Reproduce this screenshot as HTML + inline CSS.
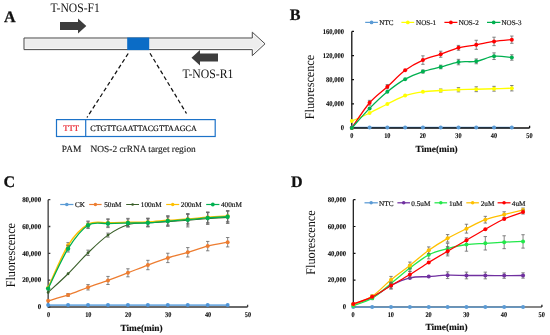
<!DOCTYPE html>
<html lang="en"><head><meta charset="utf-8"><title>Figure</title>
<style>html,body{margin:0;padding:0;background:#fff}body{width:550px;height:335px;overflow:hidden}svg{display:block}</style></head>
<body>
<svg width="550" height="335" viewBox="0 0 550 335" style="text-rendering:geometricPrecision">
<rect width="550" height="335" fill="#fff"/>
<g font-family="'Liberation Serif',serif" font-weight="bold" font-size="16.1" fill="#111" stroke="#111" stroke-width="0.25">
<text x="3.9" y="22">A</text>
<text x="289.8" y="20">B</text>
<text x="3.6" y="187">C</text>
<text x="291" y="187">D</text>
</g>
<g font-family="'Liberation Serif',serif" fill="#111">
<text x="50.5" y="12.4" font-size="13" textLength="49.3" lengthAdjust="spacingAndGlyphs">T-NOS-F1</text>
<text x="182.4" y="77.6" font-size="13" textLength="51" lengthAdjust="spacingAndGlyphs">T-NOS-R1</text>
</g>
<path d="M60 22 H78 V18.5 L86.3 26 L78 33.5 V29.9 H60 Z" fill="#3d3d3d"/>
<path d="M24 38 H252.3 V32.2 L265 43.8 L252.3 55.6 V49.6 H24 Z" fill="#ededed" stroke="#fafafa" stroke-width="2.6" stroke-linejoin="miter"/>
<path d="M24 38 H252.3 V32.2 L265 43.8 L252.3 55.6 V49.6 H24 Z" fill="none" stroke="#4a4a4a" stroke-width="1" stroke-linejoin="miter"/>
<rect x="127.2" y="37.5" width="22" height="12.6" fill="#0b6cc6"/>
<path d="M218 53.5 H200 V50 L191.5 57.7 L200 65.4 V61.6 H218 Z" fill="#3d3d3d"/>
<path d="M128.2 53.5 L87 117.5 M150 53.2 L186.5 113.5" stroke="#111" stroke-width="1.25" stroke-dasharray="4.1 2.7" fill="none"/>
<rect x="56.5" y="119.6" width="158.7" height="16.9" fill="#fff" stroke="#1c72c8" stroke-width="1.2"/>
<path d="M85.7 119.6 V136.5" stroke="#1c72c8" stroke-width="1.2"/>
<text x="71.2" y="131.1" font-family="'Liberation Serif',serif" font-size="8.6" fill="#e8202a" stroke="#e8202a" stroke-width="0.2" text-anchor="middle">TTT</text>
<text x="90.3" y="131.1" font-family="'Liberation Serif',serif" font-size="8.3" fill="#111" stroke="#111" stroke-width="0.18" textLength="106.4" lengthAdjust="spacingAndGlyphs">CTGTTGAATTACGTTAAGCA</text>
<text x="61.8" y="152.4" font-family="'Liberation Serif',serif" font-size="9.4" fill="#222" stroke="#222" stroke-width="0.15">PAM</text>
<text x="90.5" y="152.4" font-family="'Liberation Serif',serif" font-size="9.4" fill="#222" stroke="#222" stroke-width="0.15">NOS-2 crRNA target region</text>
<path d="M351.8 127.4 H511.82" stroke="#5b9bd5" stroke-width="1.5" fill="none"/>
<g stroke="#111" stroke-width="1.3" fill="none">
<path d="M351.8 31.4 V128 H529.6"/>
<path d="M351.8 128 h2.2M351.8 103.85 h2.2M351.8 79.7 h2.2M351.8 55.55 h2.2M351.8 31.4 h2.2M529.6 128 v-2.2"/>
</g>
<g font-family="'Liberation Serif',serif" font-weight="bold" font-size="7.3" fill="#111" stroke="#111" stroke-width="0.12">
<text transform="translate(344.1 130) scale(0.9 1)" text-anchor="end">0</text>
<text transform="translate(344.1 106) scale(0.9 1)" text-anchor="end">40,000</text>
<text transform="translate(344.1 82) scale(0.9 1)" text-anchor="end">80,000</text>
<text transform="translate(344.1 58) scale(0.9 1)" text-anchor="end">120,000</text>
<text transform="translate(344.1 34) scale(0.9 1)" text-anchor="end">160,000</text>
<text transform="translate(351.7 138) scale(0.86 1)" text-anchor="middle">0</text>
<text transform="translate(387.26 138) scale(0.86 1)" text-anchor="middle">10</text>
<text transform="translate(422.82 138) scale(0.86 1)" text-anchor="middle">20</text>
<text transform="translate(458.38 138) scale(0.86 1)" text-anchor="middle">30</text>
<text transform="translate(493.94 138) scale(0.86 1)" text-anchor="middle">40</text>
<text transform="translate(529.5 138) scale(0.86 1)" text-anchor="middle">50</text>
</g>
<text transform="translate(436.6 152) scale(1 1)" text-anchor="middle" font-family="'Liberation Serif',serif" font-weight="bold" font-size="9.3" fill="#111" stroke="#111" stroke-width="0.15">Time(min)</text>
<text transform="translate(314.4 87) rotate(-90) scale(0.925 1)" text-anchor="middle" font-family="'Liberation Serif',serif" font-size="13.2" fill="#111">Fluorescence</text>
<g fill="#5b9bd5"><circle cx="351.8" cy="127.4" r="2.0"/><circle cx="369.58" cy="127.4" r="2.0"/><circle cx="387.36" cy="127.4" r="2.0"/><circle cx="405.14" cy="127.4" r="2.0"/><circle cx="422.92" cy="127.4" r="2.0"/><circle cx="440.7" cy="127.4" r="2.0"/><circle cx="458.48" cy="127.4" r="2.0"/><circle cx="476.26" cy="127.4" r="2.0"/><circle cx="494.04" cy="127.4" r="2.0"/><circle cx="511.82" cy="127.4" r="2.0"/></g>
<path d="M440.7 89 V92.02 M439 89 h3.4 M439 92.02 h3.4M458.48 87.61 V91.84 M456.78 87.61 h3.4 M456.78 91.84 h3.4M476.26 86.82 V91.65 M474.56 86.82 h3.4 M474.56 91.65 h3.4M494.04 86.34 V91.17 M492.34 86.34 h3.4 M492.34 91.17 h3.4M511.82 85.5 V90.93 M510.12 85.5 h3.4 M510.12 90.93 h3.4" stroke="#666" stroke-width="0.8" fill="none"/>
<path d="M351.8 121.12 C354.76 119.76 363.65 115.81 369.58 112.97 C375.51 110.12 381.43 106.93 387.36 104.03 C393.29 101.13 399.21 97.62 405.14 95.58 C411.07 93.54 416.99 92.62 422.92 91.78 C428.85 90.93 434.77 90.85 440.7 90.51 C446.63 90.17 452.55 89.93 458.48 89.72 C464.41 89.51 470.33 89.4 476.26 89.24 C482.19 89.08 488.11 88.93 494.04 88.76 C499.97 88.59 508.86 88.3 511.82 88.21" stroke="#ffff00" stroke-width="1.3" fill="none" stroke-linejoin="round"/>
<g fill="#ffff00"><circle cx="351.8" cy="121.12" r="2.0"/><circle cx="369.58" cy="112.97" r="2.0"/><circle cx="387.36" cy="104.03" r="2.0"/><circle cx="405.14" cy="95.58" r="2.0"/><circle cx="422.92" cy="91.78" r="2.0"/><circle cx="440.7" cy="90.51" r="2.0"/><circle cx="458.48" cy="89.72" r="2.0"/><circle cx="476.26" cy="89.24" r="2.0"/><circle cx="494.04" cy="88.76" r="2.0"/><circle cx="511.82" cy="88.21" r="2.0"/></g>
<path d="M369.58 100.35 V105.18 M367.88 100.35 h3.4 M367.88 105.18 h3.4M387.36 84.59 V88.82 M385.66 84.59 h3.4 M385.66 88.82 h3.4M422.92 55.85 V64.3 M421.22 55.85 h3.4 M421.22 64.3 h3.4M440.7 51.2 V57.24 M439 51.2 h3.4 M439 57.24 h3.4M458.48 45.41 V50.24 M456.78 45.41 h3.4 M456.78 50.24 h3.4M476.26 40.28 V49.33 M474.56 40.28 h3.4 M474.56 49.33 h3.4M494.04 37.2 V45.65 M492.34 37.2 h3.4 M492.34 45.65 h3.4M511.82 36.05 V43.29 M510.12 36.05 h3.4 M510.12 43.29 h3.4" stroke="#666" stroke-width="0.8" fill="none"/>
<path d="M351.8 128 C354.76 123.79 363.65 109.65 369.58 102.76 C375.51 95.88 381.43 92.12 387.36 86.7 C393.29 81.29 399.21 74.72 405.14 70.28 C411.07 65.84 416.99 62.75 422.92 60.08 C428.85 57.4 434.77 56.26 440.7 54.22 C446.63 52.18 452.55 49.39 458.48 47.82 C464.41 46.25 470.33 45.87 476.26 44.8 C482.19 43.74 488.11 42.28 494.04 41.42 C499.97 40.57 508.86 39.96 511.82 39.67" stroke="#ff0000" stroke-width="1.3" fill="none" stroke-linejoin="round"/>
<g fill="#ff0000"><circle cx="351.8" cy="128" r="2.0"/><circle cx="369.58" cy="102.76" r="2.0"/><circle cx="387.36" cy="86.7" r="2.0"/><circle cx="405.14" cy="70.28" r="2.0"/><circle cx="422.92" cy="60.08" r="2.0"/><circle cx="440.7" cy="54.22" r="2.0"/><circle cx="458.48" cy="47.82" r="2.0"/><circle cx="476.26" cy="44.8" r="2.0"/><circle cx="494.04" cy="41.42" r="2.0"/><circle cx="511.82" cy="39.67" r="2.0"/></g>
<path d="M422.92 70.04 V73.06 M421.22 70.04 h3.4 M421.22 73.06 h3.4M440.7 65.15 V68.77 M439 65.15 h3.4 M439 68.77 h3.4M458.48 59.35 V64.79 M456.78 59.35 h3.4 M456.78 64.79 h3.4M476.26 58.93 V63.76 M474.56 58.93 h3.4 M474.56 63.76 h3.4M494.04 52.89 V59.53 M492.34 52.89 h3.4 M492.34 59.53 h3.4M511.82 54.77 V60.2 M510.12 54.77 h3.4 M510.12 60.2 h3.4" stroke="#666" stroke-width="0.8" fill="none"/>
<path d="M351.8 128 C354.76 124.73 363.65 114.42 369.58 108.38 C375.51 102.34 381.43 96.65 387.36 91.78 C393.29 86.9 399.21 82.53 405.14 79.16 C411.07 75.79 416.99 73.58 422.92 71.55 C428.85 69.52 434.77 68.54 440.7 66.96 C446.63 65.38 452.55 63.01 458.48 62.07 C464.41 61.13 470.33 62.32 476.26 61.35 C482.19 60.37 488.11 56.86 494.04 56.21 C499.97 55.57 508.86 57.27 511.82 57.48" stroke="#00b050" stroke-width="1.3" fill="none" stroke-linejoin="round"/>
<g fill="#00b050"><circle cx="351.8" cy="128" r="2.0"/><circle cx="369.58" cy="108.38" r="2.0"/><circle cx="387.36" cy="91.78" r="2.0"/><circle cx="405.14" cy="79.16" r="2.0"/><circle cx="422.92" cy="71.55" r="2.0"/><circle cx="440.7" cy="66.96" r="2.0"/><circle cx="458.48" cy="62.07" r="2.0"/><circle cx="476.26" cy="61.35" r="2.0"/><circle cx="494.04" cy="56.21" r="2.0"/><circle cx="511.82" cy="57.48" r="2.0"/></g>
<g font-family="'Liberation Serif',serif" font-size="7.2" fill="#111" stroke="#111" stroke-width="0.18">
<path d="M365.2 22.4 H377.9" stroke="#5b9bd5" stroke-width="1.25" fill="none"/>
<circle cx="371.55" cy="22.4" r="1.85" fill="#5b9bd5" stroke="none"/>
<text transform="translate(379.3 25) scale(0.98 1)">NTC</text>
<path d="M401.4 22.4 H414.2" stroke="#ffff00" stroke-width="1.25" fill="none"/>
<circle cx="407.8" cy="22.4" r="1.85" fill="#ffff00" stroke="none"/>
<text transform="translate(416.1 25) scale(0.98 1)">NOS-1</text>
<path d="M444.4 22.4 H457.4" stroke="#ff0000" stroke-width="1.25" fill="none"/>
<circle cx="450.9" cy="22.4" r="1.85" fill="#ff0000" stroke="none"/>
<text transform="translate(458.7 25) scale(0.98 1)">NOS-2</text>
<path d="M487 22.4 H500.4" stroke="#00b050" stroke-width="1.25" fill="none"/>
<circle cx="493.7" cy="22.4" r="1.85" fill="#00b050" stroke="none"/>
<text transform="translate(501.5 25) scale(0.98 1)">NOS-3</text>
</g>
<g stroke="#3a3a3a" stroke-width="1.3" fill="none">
<path d="M48.15 199.7 V307 H247.6"/>
<path d="M48.15 307 h2.2M48.15 280.18 h2.2M48.15 253.35 h2.2M48.15 226.52 h2.2M48.15 199.7 h2.2M247.6 307 v-2.2"/>
</g>
<g font-family="'Liberation Serif',serif" font-weight="bold" font-size="7.3" fill="#111" stroke="#111" stroke-width="0.12">
<text transform="translate(41.2 309) scale(0.95 1)" text-anchor="end">0</text>
<text transform="translate(41.2 282) scale(0.95 1)" text-anchor="end">20,000</text>
<text transform="translate(41.2 256) scale(0.95 1)" text-anchor="end">40,000</text>
<text transform="translate(41.2 229) scale(0.95 1)" text-anchor="end">60,000</text>
<text transform="translate(41.2 202) scale(0.95 1)" text-anchor="end">80,000</text>
<text transform="translate(48.45 317) scale(0.86 1)" text-anchor="middle">0</text>
<text transform="translate(88.34 317) scale(0.86 1)" text-anchor="middle">10</text>
<text transform="translate(128.23 317) scale(0.86 1)" text-anchor="middle">20</text>
<text transform="translate(168.12 317) scale(0.86 1)" text-anchor="middle">30</text>
<text transform="translate(208.01 317) scale(0.86 1)" text-anchor="middle">40</text>
<text transform="translate(247.9 317) scale(0.86 1)" text-anchor="middle">50</text>
</g>
<text transform="translate(141.5 331) scale(1 1)" text-anchor="middle" font-family="'Liberation Serif',serif" font-weight="bold" font-size="9.3" fill="#111" stroke="#111" stroke-width="0.15">Time(min)</text>
<text transform="translate(14.9 255.2) rotate(-90) scale(0.925 1)" text-anchor="middle" font-family="'Liberation Serif',serif" font-size="13.2" fill="#111">Fluorescence</text>
<path d="M48.15 305.06 C51.47 305.06 61.45 305.06 68.09 305.06 C74.74 305.06 81.39 305.06 88.04 305.06 C94.69 305.06 101.34 305.06 107.98 305.06 C114.63 305.06 121.28 305.06 127.93 305.06 C134.58 305.06 141.23 305.06 147.88 305.06 C154.52 305.06 161.17 305.06 167.82 305.06 C174.47 305.06 181.12 305.06 187.77 305.06 C194.41 305.06 201.06 305.06 207.71 305.06 C214.36 305.06 224.33 305.06 227.66 305.06" stroke="#74aee3" stroke-width="1.8" fill="none" stroke-linejoin="round"/>
<g fill="#4f95d8"><circle cx="48.15" cy="305.06" r="2.0"/><circle cx="68.09" cy="305.06" r="2.0"/><circle cx="88.04" cy="305.06" r="2.0"/><circle cx="107.98" cy="305.06" r="2.0"/><circle cx="127.93" cy="305.06" r="2.0"/><circle cx="147.88" cy="305.06" r="2.0"/><circle cx="167.82" cy="305.06" r="2.0"/><circle cx="187.77" cy="305.06" r="2.0"/><circle cx="207.71" cy="305.06" r="2.0"/><circle cx="227.66" cy="305.06" r="2.0"/></g>
<path d="M68.09 293.59 V296.27 M66.39 293.59 h3.4 M66.39 296.27 h3.4M88.04 284.6 V289.97 M86.34 284.6 h3.4 M86.34 289.97 h3.4M107.98 276.42 V284.47 M106.28 276.42 h3.4 M106.28 284.47 h3.4M127.93 268.77 V276.82 M126.23 268.77 h3.4 M126.23 276.82 h3.4M147.88 260.32 V269.71 M146.18 260.32 h3.4 M146.18 269.71 h3.4M167.82 253.22 V262.6 M166.12 253.22 h3.4 M166.12 262.6 h3.4M187.77 247.58 V256.97 M186.07 247.58 h3.4 M186.07 256.97 h3.4M207.71 241.41 V250.8 M206.01 241.41 h3.4 M206.01 250.8 h3.4M227.66 237.52 V246.91 M225.96 237.52 h3.4 M225.96 246.91 h3.4" stroke="#666" stroke-width="0.8" fill="none"/>
<path d="M48.15 300.83 C51.47 299.85 61.45 297.19 68.09 294.93 C74.74 292.67 81.39 289.7 88.04 287.28 C94.69 284.87 101.34 282.86 107.98 280.44 C114.63 278.03 121.28 275.37 127.93 272.8 C134.58 270.23 141.23 267.5 147.88 265.02 C154.52 262.54 161.17 260.03 167.82 257.91 C174.47 255.79 181.12 254.24 187.77 252.28 C194.41 250.31 201.06 247.78 207.71 246.11 C214.36 244.43 224.33 242.87 227.66 242.22" stroke="#ed7d31" stroke-width="1.3" fill="none" stroke-linejoin="round"/>
<g fill="#ed7d31"><circle cx="48.15" cy="300.83" r="2.0"/><circle cx="68.09" cy="294.93" r="2.0"/><circle cx="88.04" cy="287.28" r="2.0"/><circle cx="107.98" cy="280.44" r="2.0"/><circle cx="127.93" cy="272.8" r="2.0"/><circle cx="147.88" cy="265.02" r="2.0"/><circle cx="167.82" cy="257.91" r="2.0"/><circle cx="187.77" cy="252.28" r="2.0"/><circle cx="207.71" cy="246.11" r="2.0"/><circle cx="227.66" cy="242.22" r="2.0"/></g>
<path d="M88.04 250.13 V255.5 M86.34 250.13 h3.4 M86.34 255.5 h3.4M107.98 233.1 V237.12 M106.28 233.1 h3.4 M106.28 237.12 h3.4M127.93 222.77 V226.79 M126.23 222.77 h3.4 M126.23 226.79 h3.4M147.88 218.75 V226.79 M146.18 218.75 h3.4 M146.18 226.79 h3.4M167.82 217 V226.39 M166.12 217 h3.4 M166.12 226.39 h3.4M187.77 213.51 V226.93 M186.07 213.51 h3.4 M186.07 226.93 h3.4M207.71 212.44 V224.51 M206.01 212.44 h3.4 M206.01 224.51 h3.4M227.66 211.37 V223.44 M225.96 211.37 h3.4 M225.96 223.44 h3.4" stroke="#666" stroke-width="0.8" fill="none"/>
<path d="M48.15 292.38 C51.47 289.27 61.45 280.33 68.09 273.74 C74.74 267.14 81.39 259.25 88.04 252.81 C94.69 246.38 101.34 239.78 107.98 235.11 C114.63 230.44 121.28 226.84 127.93 224.78 C134.58 222.72 141.23 223.28 147.88 222.77 C154.52 222.26 161.17 222.12 167.82 221.7 C174.47 221.27 181.12 220.76 187.77 220.22 C194.41 219.68 201.06 218.95 207.71 218.48 C214.36 218.01 224.33 217.58 227.66 217.4" stroke="#3a5f2a" stroke-width="1.1" fill="none" stroke-linejoin="round"/>
<g fill="#3a5f2a"><circle cx="48.15" cy="292.38" r="1.4"/><circle cx="68.09" cy="273.74" r="1.4"/><circle cx="88.04" cy="252.81" r="1.4"/><circle cx="107.98" cy="235.11" r="1.4"/><circle cx="127.93" cy="224.78" r="1.4"/><circle cx="147.88" cy="222.77" r="1.4"/><circle cx="167.82" cy="221.7" r="1.4"/><circle cx="187.77" cy="220.22" r="1.4"/><circle cx="207.71" cy="218.48" r="1.4"/><circle cx="227.66" cy="217.4" r="1.4"/></g>
<path d="M68.09 242.62 V247.98 M66.39 242.62 h3.4 M66.39 247.98 h3.4M88.04 221.03 V227.73 M86.34 221.03 h3.4 M86.34 227.73 h3.4M107.98 218.75 V226.79 M106.28 218.75 h3.4 M106.28 226.79 h3.4M127.93 218.34 V226.39 M126.23 218.34 h3.4 M126.23 226.39 h3.4M147.88 218.08 V226.12 M146.18 218.08 h3.4 M146.18 226.12 h3.4M167.82 215.66 V225.05 M166.12 215.66 h3.4 M166.12 225.05 h3.4M187.77 214.32 V223.71 M186.07 214.32 h3.4 M186.07 223.71 h3.4M207.71 211.91 V222.64 M206.01 211.91 h3.4 M206.01 222.64 h3.4M227.66 210.7 V221.43 M225.96 210.7 h3.4 M225.96 221.43 h3.4" stroke="#666" stroke-width="0.8" fill="none"/>
<path d="M48.15 287.82 C51.47 280.73 61.45 255.88 68.09 245.3 C74.74 234.73 81.39 228.13 88.04 224.38 C94.69 220.62 101.34 223.1 107.98 222.77 C114.63 222.43 121.28 222.48 127.93 222.37 C134.58 222.26 141.23 222.43 147.88 222.1 C154.52 221.76 161.17 220.87 167.82 220.36 C174.47 219.84 181.12 219.53 187.77 219.01 C194.41 218.5 201.06 217.76 207.71 217.27 C214.36 216.78 224.33 216.26 227.66 216.06" stroke="#ffc000" stroke-width="1.5" fill="none" stroke-linejoin="round"/>
<g fill="#ffc000"><circle cx="48.15" cy="287.82" r="2.0"/><circle cx="68.09" cy="245.3" r="2.0"/><circle cx="88.04" cy="224.38" r="2.0"/><circle cx="107.98" cy="222.77" r="2.0"/><circle cx="127.93" cy="222.37" r="2.0"/><circle cx="147.88" cy="222.1" r="2.0"/><circle cx="167.82" cy="220.36" r="2.0"/><circle cx="187.77" cy="219.01" r="2.0"/><circle cx="207.71" cy="217.27" r="2.0"/><circle cx="227.66" cy="216.06" r="2.0"/></g>
<path d="M68.09 245.3 V252.01 M66.39 245.3 h3.4 M66.39 252.01 h3.4M88.04 221.83 V228.54 M86.34 221.83 h3.4 M86.34 228.54 h3.4M107.98 219.55 V227.6 M106.28 219.55 h3.4 M106.28 227.6 h3.4M127.93 219.01 V227.06 M126.23 219.01 h3.4 M126.23 227.06 h3.4M147.88 218.75 V226.79 M146.18 218.75 h3.4 M146.18 226.79 h3.4M167.82 216.33 V225.72 M166.12 216.33 h3.4 M166.12 225.72 h3.4M187.77 214.32 V225.05 M186.07 214.32 h3.4 M186.07 225.05 h3.4M207.71 212.58 V223.31 M206.01 212.58 h3.4 M206.01 223.31 h3.4M227.66 210.7 V222.77 M225.96 210.7 h3.4 M225.96 222.77 h3.4" stroke="#666" stroke-width="0.8" fill="none"/>
<path d="M48.15 288.62 C51.47 281.96 61.45 259.23 68.09 248.66 C74.74 238.08 81.39 229.36 88.04 225.18 C94.69 221 101.34 223.93 107.98 223.57 C114.63 223.22 121.28 223.17 127.93 223.04 C134.58 222.9 141.23 223.1 147.88 222.77 C154.52 222.43 161.17 221.54 167.82 221.03 C174.47 220.51 181.12 220.2 187.77 219.68 C194.41 219.17 201.06 218.43 207.71 217.94 C214.36 217.45 224.33 216.94 227.66 216.73" stroke="#00b050" stroke-width="1.3" fill="none" stroke-linejoin="round"/>
<g fill="#00b050"><circle cx="48.15" cy="288.62" r="2.2"/><circle cx="68.09" cy="248.66" r="2.2"/><circle cx="88.04" cy="225.18" r="2.2"/><circle cx="107.98" cy="223.57" r="2.2"/><circle cx="127.93" cy="223.04" r="2.2"/><circle cx="147.88" cy="222.77" r="2.2"/><circle cx="167.82" cy="221.03" r="2.2"/><circle cx="187.77" cy="219.68" r="2.2"/><circle cx="207.71" cy="217.94" r="2.2"/><circle cx="227.66" cy="216.73" r="2.2"/></g>
<g font-family="'Liberation Serif',serif" font-size="7.2" fill="#111" stroke="#111" stroke-width="0.18">
<path d="M60.2 204.5 H73.4" stroke="#5b9bd5" stroke-width="1.25" fill="none"/>
<circle cx="66.8" cy="204.5" r="1.8" fill="#5b9bd5" stroke="none"/>
<text transform="translate(74.9 207) scale(1.0 1)">CK</text>
<path d="M89.2 204.5 H101.6" stroke="#ed7d31" stroke-width="1.2" fill="none"/>
<circle cx="95.4" cy="204.5" r="1.7" fill="#ed7d31" stroke="none"/>
<text transform="translate(104.2 207) scale(1.0 1)">50nM</text>
<path d="M126.2 204.5 H139" stroke="#3a5f2a" stroke-width="1.0" fill="none"/>
<circle cx="132.6" cy="204.5" r="1.3" fill="#3a5f2a" stroke="none"/>
<text transform="translate(140.8 207) scale(1.0 1)">100nM</text>
<path d="M166.2 204.5 H179.2" stroke="#ffc000" stroke-width="1.2" fill="none"/>
<circle cx="172.7" cy="204.5" r="1.7" fill="#ffc000" stroke="none"/>
<text transform="translate(180.8 207) scale(1.0 1)">200nM</text>
<path d="M206.2 204.5 H219.4" stroke="#00b050" stroke-width="1.2" fill="none"/>
<circle cx="212.8" cy="204.5" r="1.9" fill="#00b050" stroke="none"/>
<text transform="translate(221 207) scale(1.0 1)">400nM</text>
</g>
<g stroke="#111" stroke-width="1.2" fill="none">
<path d="M353.3 199.7 V307 H541.9"/>
<path d="M353.3 307 h2.2M353.3 280.18 h2.2M353.3 253.35 h2.2M353.3 226.52 h2.2M353.3 199.7 h2.2M541.9 307 v-2.2"/>
</g>
<g font-family="'Liberation Serif',serif" font-weight="bold" font-size="7.3" fill="#111" stroke="#111" stroke-width="0.12">
<text transform="translate(346.2 309) scale(0.92 1)" text-anchor="end">0</text>
<text transform="translate(346.2 282) scale(0.92 1)" text-anchor="end">20,000</text>
<text transform="translate(346.2 256) scale(0.92 1)" text-anchor="end">40,000</text>
<text transform="translate(346.2 229) scale(0.92 1)" text-anchor="end">60,000</text>
<text transform="translate(346.2 202) scale(0.92 1)" text-anchor="end">80,000</text>
<text transform="translate(353.1 317) scale(0.86 1)" text-anchor="middle">0</text>
<text transform="translate(390.82 317) scale(0.86 1)" text-anchor="middle">10</text>
<text transform="translate(428.54 317) scale(0.86 1)" text-anchor="middle">20</text>
<text transform="translate(466.26 317) scale(0.86 1)" text-anchor="middle">30</text>
<text transform="translate(503.98 317) scale(0.86 1)" text-anchor="middle">40</text>
<text transform="translate(541.7 317) scale(0.86 1)" text-anchor="middle">50</text>
</g>
<text transform="translate(446.5 330) scale(1 1)" text-anchor="middle" font-family="'Liberation Serif',serif" font-weight="bold" font-size="9.3" fill="#111" stroke="#111" stroke-width="0.15">Time(min)</text>
<text transform="translate(315.2 242.5) rotate(-90) scale(0.925 1)" text-anchor="middle" font-family="'Liberation Serif',serif" font-size="13.2" fill="#111">Fluorescence</text>
<path d="M353.3 307 C356.44 307 365.87 307 372.16 307 C378.45 307 384.73 307 391.02 307 C397.31 307 403.59 307 409.88 307 C416.17 307 422.45 307 428.74 307 C435.03 307 441.31 307 447.6 307 C453.89 307 460.17 307 466.46 307 C472.75 307 479.03 307 485.32 307 C491.61 307 497.89 307 504.18 307 C510.47 307 519.9 307 523.04 307" stroke="#5b9bd5" stroke-width="1.25" fill="none" stroke-linejoin="round"/>
<g fill="#5b9bd5"><circle cx="353.3" cy="307" r="2.0"/><circle cx="372.16" cy="307" r="2.0"/><circle cx="391.02" cy="307" r="2.0"/><circle cx="409.88" cy="307" r="2.0"/><circle cx="428.74" cy="307" r="2.0"/><circle cx="447.6" cy="307" r="2.0"/><circle cx="466.46" cy="307" r="2.0"/><circle cx="485.32" cy="307" r="2.0"/><circle cx="504.18" cy="307" r="2.0"/><circle cx="523.04" cy="307" r="2.0"/></g>
<path d="M372.16 296.27 V298.95 M370.46 296.27 h3.4 M370.46 298.95 h3.4M391.02 282.19 V288.89 M389.32 282.19 h3.4 M389.32 288.89 h3.4M447.6 271.86 V278.57 M445.9 271.86 h3.4 M445.9 278.57 h3.4M466.46 272.13 V278.83 M464.76 272.13 h3.4 M464.76 278.83 h3.4M485.32 272.13 V278.83 M483.62 272.13 h3.4 M483.62 278.83 h3.4M504.18 272.93 V278.3 M502.48 272.93 h3.4 M502.48 278.3 h3.4M523.04 272.8 V278.16 M521.34 272.8 h3.4 M521.34 278.16 h3.4" stroke="#666" stroke-width="0.8" fill="none"/>
<path d="M353.3 304.32 C356.44 303.2 365.87 300.74 372.16 297.61 C378.45 294.48 384.73 288.83 391.02 285.54 C397.31 282.25 403.59 279.39 409.88 277.89 C416.17 276.4 422.45 277 428.74 276.55 C435.03 276.11 441.31 275.39 447.6 275.21 C453.89 275.03 460.17 275.44 466.46 275.48 C472.75 275.53 479.03 275.46 485.32 275.48 C491.61 275.5 497.89 275.61 504.18 275.61 C510.47 275.61 519.9 275.5 523.04 275.48" stroke="#7030a0" stroke-width="1.3" fill="none" stroke-linejoin="round"/>
<g fill="#7030a0"><circle cx="353.3" cy="304.32" r="2.0"/><circle cx="372.16" cy="297.61" r="2.0"/><circle cx="391.02" cy="285.54" r="2.0"/><circle cx="409.88" cy="277.89" r="2.0"/><circle cx="428.74" cy="276.55" r="2.0"/><circle cx="447.6" cy="275.21" r="2.0"/><circle cx="466.46" cy="275.48" r="2.0"/><circle cx="485.32" cy="275.48" r="2.0"/><circle cx="504.18" cy="275.61" r="2.0"/><circle cx="523.04" cy="275.48" r="2.0"/></g>
<path d="M372.16 296.94 V299.62 M370.46 296.94 h3.4 M370.46 299.62 h3.4M391.02 280.18 V286.88 M389.32 280.18 h3.4 M389.32 286.88 h3.4M409.88 264.75 V271.46 M408.18 264.75 h3.4 M408.18 271.46 h3.4M428.74 250.8 V258.85 M427.04 250.8 h3.4 M427.04 258.85 h3.4M447.6 243.29 V254.02 M445.9 243.29 h3.4 M445.9 254.02 h3.4M466.46 237.79 V251.2 M464.76 237.79 h3.4 M464.76 251.2 h3.4M485.32 236.58 V250 M483.62 236.58 h3.4 M483.62 250 h3.4M504.18 235.78 V248.66 M502.48 235.78 h3.4 M502.48 248.66 h3.4M523.04 234.71 V248.12 M521.34 234.71 h3.4 M521.34 248.12 h3.4" stroke="#666" stroke-width="0.8" fill="none"/>
<path d="M353.3 305.66 C356.44 304.43 365.87 301.97 372.16 298.28 C378.45 294.59 384.73 288.56 391.02 283.53 C397.31 278.5 403.59 272.89 409.88 268.1 C416.17 263.32 422.45 258.07 428.74 254.83 C435.03 251.58 441.31 250.38 447.6 248.66 C453.89 246.93 460.17 245.39 466.46 244.5 C472.75 243.6 479.03 243.67 485.32 243.29 C491.61 242.91 497.89 242.53 504.18 242.22 C510.47 241.9 519.9 241.55 523.04 241.41" stroke="#22e84a" stroke-width="1.3" fill="none" stroke-linejoin="round"/>
<g fill="#22e84a"><circle cx="353.3" cy="305.66" r="2.0"/><circle cx="372.16" cy="298.28" r="2.0"/><circle cx="391.02" cy="283.53" r="2.0"/><circle cx="409.88" cy="268.1" r="2.0"/><circle cx="428.74" cy="254.83" r="2.0"/><circle cx="447.6" cy="248.66" r="2.0"/><circle cx="466.46" cy="244.5" r="2.0"/><circle cx="485.32" cy="243.29" r="2.0"/><circle cx="504.18" cy="242.22" r="2.0"/><circle cx="523.04" cy="241.41" r="2.0"/></g>
<path d="M372.16 294.93 V297.61 M370.46 294.93 h3.4 M370.46 297.61 h3.4M391.02 276.42 V283.13 M389.32 276.42 h3.4 M389.32 283.13 h3.4M409.88 262.07 V268.77 M408.18 262.07 h3.4 M408.18 268.77 h3.4M428.74 246.91 V253.62 M427.04 246.91 h3.4 M427.04 253.62 h3.4M447.6 234.57 V242.08 M445.9 234.57 h3.4 M445.9 242.08 h3.4M466.46 224.24 V233.1 M464.76 224.24 h3.4 M464.76 233.1 h3.4M485.32 216.33 V223.04 M483.62 216.33 h3.4 M483.62 223.04 h3.4M504.18 211.77 V217.4 M502.48 211.77 h3.4 M502.48 217.4 h3.4M523.04 208.02 V212.04 M521.34 208.02 h3.4 M521.34 212.04 h3.4" stroke="#666" stroke-width="0.8" fill="none"/>
<path d="M353.3 304.32 C356.44 302.98 365.87 300.36 372.16 296.27 C378.45 292.18 384.73 284.91 391.02 279.77 C397.31 274.63 403.59 270.34 409.88 265.42 C416.17 260.5 422.45 254.78 428.74 250.27 C435.03 245.75 441.31 241.93 447.6 238.33 C453.89 234.73 460.17 231.78 466.46 228.67 C472.75 225.56 479.03 222.03 485.32 219.68 C491.61 217.34 497.89 216.2 504.18 214.59 C510.47 212.98 519.9 210.79 523.04 210.03" stroke="#ffc000" stroke-width="1.3" fill="none" stroke-linejoin="round"/>
<g fill="#ffc000"><circle cx="353.3" cy="304.32" r="2.0"/><circle cx="372.16" cy="296.27" r="2.0"/><circle cx="391.02" cy="279.77" r="2.0"/><circle cx="409.88" cy="265.42" r="2.0"/><circle cx="428.74" cy="250.27" r="2.0"/><circle cx="447.6" cy="238.33" r="2.0"/><circle cx="466.46" cy="228.67" r="2.0"/><circle cx="485.32" cy="219.68" r="2.0"/><circle cx="504.18" cy="214.59" r="2.0"/><circle cx="523.04" cy="210.03" r="2.0"/></g>
<path d="M391.02 282.19 V288.89 M389.32 282.19 h3.4 M389.32 288.89 h3.4M409.88 271.19 V277.89 M408.18 271.19 h3.4 M408.18 277.89 h3.4M447.6 246.51 V255.9 M445.9 246.51 h3.4 M445.9 255.9 h3.4M523.04 210.03 V214.05 M521.34 210.03 h3.4 M521.34 214.05 h3.4" stroke="#666" stroke-width="0.8" fill="none"/>
<path d="M353.3 303.92 C356.44 302.73 365.87 299.87 372.16 296.81 C378.45 293.74 384.73 289.25 391.02 285.54 C397.31 281.83 403.59 278.39 409.88 274.54 C416.17 270.7 422.45 266.36 428.74 262.47 C435.03 258.58 441.31 254.91 447.6 251.2 C453.89 247.49 460.17 243.87 466.46 240.21 C472.75 236.54 479.03 232.74 485.32 229.21 C491.61 225.68 497.89 221.88 504.18 219.01 C510.47 216.15 519.9 213.2 523.04 212.04" stroke="#ff0000" stroke-width="1.3" fill="none" stroke-linejoin="round"/>
<g fill="#ff0000"><circle cx="353.3" cy="303.92" r="2.0"/><circle cx="372.16" cy="296.81" r="2.0"/><circle cx="391.02" cy="285.54" r="2.0"/><circle cx="409.88" cy="274.54" r="2.0"/><circle cx="428.74" cy="262.47" r="2.0"/><circle cx="447.6" cy="251.2" r="2.0"/><circle cx="466.46" cy="240.21" r="2.0"/><circle cx="485.32" cy="229.21" r="2.0"/><circle cx="504.18" cy="219.01" r="2.0"/><circle cx="523.04" cy="212.04" r="2.0"/></g>
<g font-family="'Liberation Serif',serif" font-size="7.2" fill="#111" stroke="#111" stroke-width="0.18">
<path d="M364.5 202.8 H377.8" stroke="#5b9bd5" stroke-width="1.25" fill="none"/>
<circle cx="371.15" cy="202.8" r="1.75" fill="#5b9bd5" stroke="none"/>
<text transform="translate(379.1 206) scale(1.0 1)">NTC</text>
<path d="M397.4 202.8 H410" stroke="#7030a0" stroke-width="1.25" fill="none"/>
<circle cx="403.7" cy="202.8" r="1.75" fill="#7030a0" stroke="none"/>
<text transform="translate(411.3 206) scale(1.0 1)">0.5uM</text>
<path d="M434.5 202.8 H447.1" stroke="#22e84a" stroke-width="1.25" fill="none"/>
<circle cx="440.8" cy="202.8" r="1.75" fill="#22e84a" stroke="none"/>
<text transform="translate(448.9 206) scale(1.0 1)">1uM</text>
<path d="M466.3 202.8 H478.9" stroke="#ffc000" stroke-width="1.25" fill="none"/>
<circle cx="472.6" cy="202.8" r="1.75" fill="#ffc000" stroke="none"/>
<text transform="translate(480.7 206) scale(1.0 1)">2uM</text>
<path d="M497.6 202.8 H510.5" stroke="#ff0000" stroke-width="1.25" fill="none"/>
<circle cx="504.05" cy="202.8" r="1.75" fill="#ff0000" stroke="none"/>
<text transform="translate(511.8 206) scale(1.0 1)">4uM</text>
</g>
</svg>
</body></html>
